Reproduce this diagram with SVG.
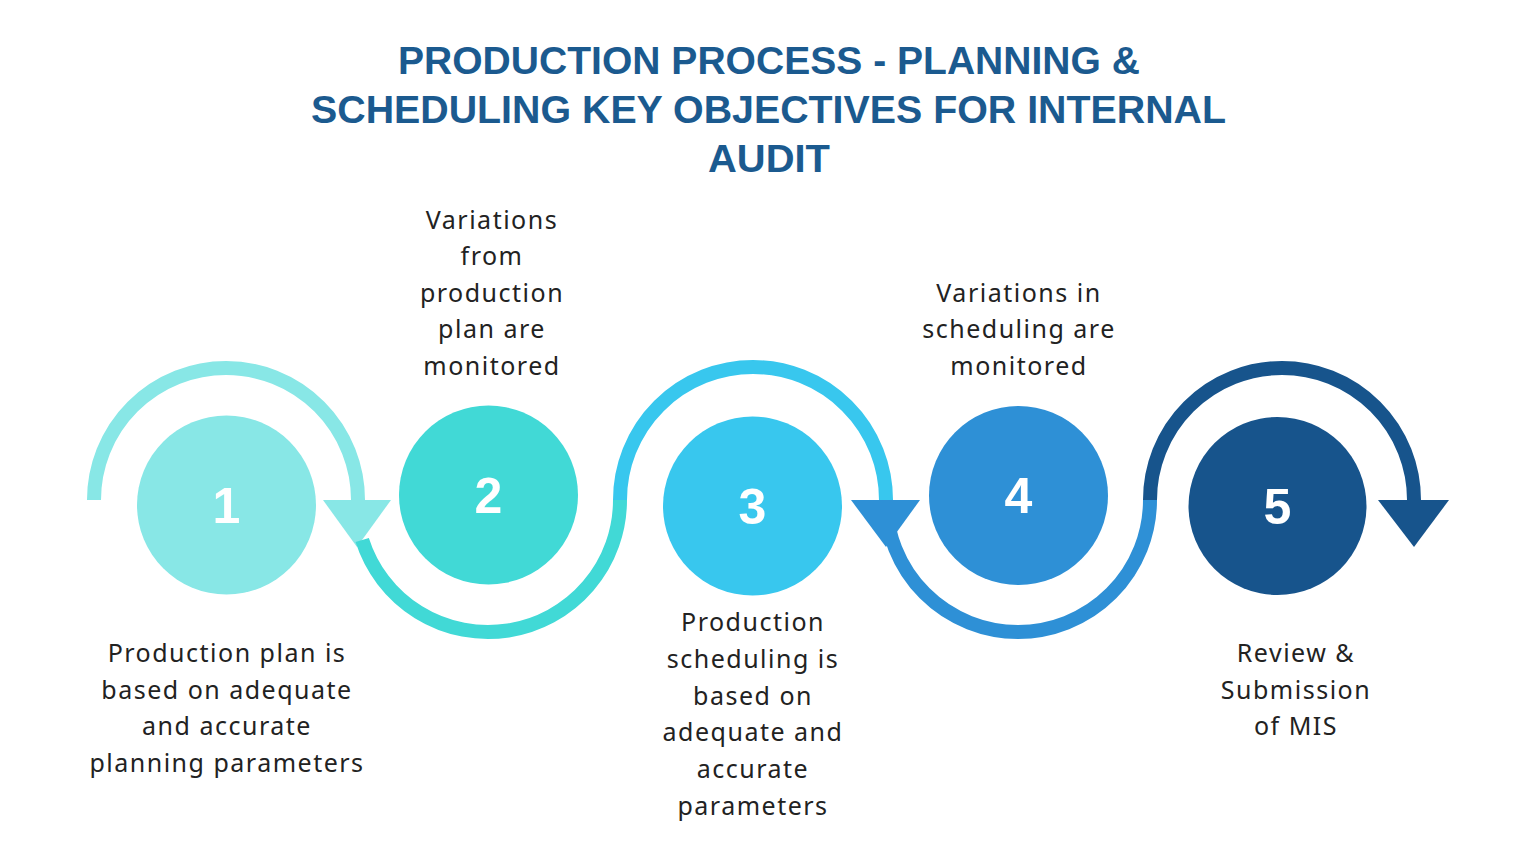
<svg xmlns="http://www.w3.org/2000/svg" width="1536" height="864" viewBox="0 0 1536 864">
<style>
.title{font-family:"Liberation Sans Narrow","Liberation Sans",Arial,sans-serif;font-weight:bold;font-size:39px;fill:#1b5a8f;text-anchor:middle}
.lbl{font-family:"Noto Sans","Open Sans",sans-serif;font-size:25px;fill:#222222;text-anchor:middle;letter-spacing:1.5px}
.num{font-family:"Liberation Sans",Arial,sans-serif;font-weight:bold;font-size:50px;fill:#ffffff;text-anchor:middle}
.arc{fill:none;stroke-width:14;stroke-linecap:butt}
</style>
<rect width="1536" height="864" fill="#ffffff"/>
<g id="title">
<text class="title" x="769" y="74" textLength="742" lengthAdjust="spacingAndGlyphs">PRODUCTION PROCESS - PLANNING &amp;</text>
<text class="title" x="768.5" y="123" textLength="915" lengthAdjust="spacingAndGlyphs">SCHEDULING KEY OBJECTIVES FOR INTERNAL</text>
<text class="title" x="769" y="172" textLength="122" lengthAdjust="spacingAndGlyphs">AUDIT</text>
</g>
<g id="connectors">
<path class="arc" stroke="#88e7e6" d="M 94 500 A 132 132 0 0 1 358 500"/>
<polygon fill="#88e7e6" points="323,500 391,500 357,547"/>
<path class="arc" stroke="#41d9d6" d="M 362.2 540 A 132 132 0 0 0 620 500"/>
<path class="arc" stroke="#38c7ee" d="M 620 500 A 133 133 0 0 1 886 500"/>
<path class="arc" stroke="#2e90d6" d="M 886 500 A 132 132 0 0 0 1150 500"/>
<polygon fill="#2e90d6" points="851,500 920,500 886,547"/>
<path class="arc" stroke="#17548c" d="M 1150 500 A 132 132 0 0 1 1414 500"/>
<polygon fill="#17548c" points="1378,500 1449,500 1414,547"/>
</g>
<g id="node1">
<circle cx="226.5" cy="505" r="89.5" fill="#88e7e6"/>
<text class="num" x="226.5" y="523">1</text>
<text class="lbl" x="227" y="662">Production plan is</text>
<text class="lbl" x="227" y="699">based on adequate</text>
<text class="lbl" x="227" y="735">and accurate</text>
<text class="lbl" x="227" y="772">planning parameters</text>
</g>
<g id="node2">
<circle cx="488.5" cy="495" r="89.5" fill="#41d9d6"/>
<text class="num" x="488.5" y="513">2</text>
<text class="lbl" x="492" y="229">Variations</text>
<text class="lbl" x="492" y="265">from</text>
<text class="lbl" x="492" y="302">production</text>
<text class="lbl" x="492" y="338">plan are</text>
<text class="lbl" x="492" y="375">monitored</text>
</g>
<g id="node3">
<circle cx="752.5" cy="506" r="89.5" fill="#38c7ee"/>
<text class="num" x="752.5" y="524">3</text>
<text class="lbl" x="753" y="631">Production</text>
<text class="lbl" x="753" y="668">scheduling is</text>
<text class="lbl" x="753" y="705">based on</text>
<text class="lbl" x="753" y="741">adequate and</text>
<text class="lbl" x="753" y="778">accurate</text>
<text class="lbl" x="753" y="815">parameters</text>
</g>
<g id="node4">
<circle cx="1018.5" cy="495.5" r="89.5" fill="#2e90d6"/>
<text class="num" x="1018.5" y="513">4</text>
<text class="lbl" x="1019" y="302">Variations in</text>
<text class="lbl" x="1019" y="338">scheduling are</text>
<text class="lbl" x="1019" y="375">monitored</text>
</g>
<g id="node5">
<circle cx="1277.5" cy="506" r="89" fill="#17548c"/>
<text class="num" x="1277.5" y="524">5</text>
<text class="lbl" x="1296" y="662">Review &amp;</text>
<text class="lbl" x="1296" y="699">Submission</text>
<text class="lbl" x="1296" y="735">of MIS</text>
</g>
</svg>
